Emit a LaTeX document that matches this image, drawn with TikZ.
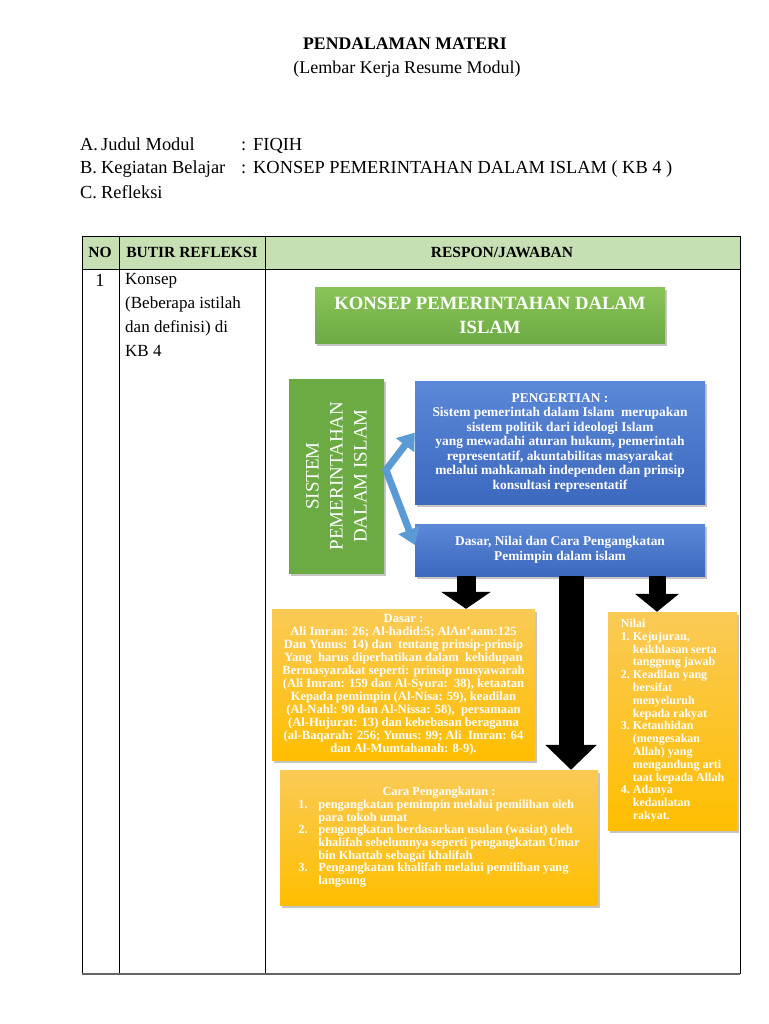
\documentclass[tikz,border=0pt]{standalone}
\usepackage{fontspec}
\setmainfont{Liberation Serif}
\usetikzlibrary{arrows.meta,positioning,shadows}
\definecolor{hdrgreen}{RGB}{198,224,180}
\definecolor{boxgreen}{RGB}{108,170,68}
\definecolor{boxgreenlt}{RGB}{138,196,88}
\definecolor{boxblue}{RGB}{60,104,190}
\definecolor{boxbluelt}{RGB}{92,136,216}
\definecolor{boxorange}{RGB}{255,190,0}
\definecolor{boxorangelt}{RGB}{250,202,86}
\definecolor{arrblue}{RGB}{91,155,213}

\begin{document}
\begin{tikzpicture}[x=1pt,y=-1pt,
  shadowed/.style={drop shadow={opacity=0.45,shadow xshift=1.5pt,shadow yshift=-2.5pt}},
  greenbox/.style={shadowed,top color=boxgreenlt,bottom color=boxgreen,text=white,inner sep=0pt,align=center},
  bluebox/.style={shadowed,top color=boxbluelt,bottom color=boxblue,text=white,inner sep=0pt,align=center,
    minimum width=290pt},
  orangebox/.style={shadowed,top color=boxorangelt,bottom color=boxorange,text=white,inner sep=0pt,align=center},
  hdr/.style={font=\bfseries\fontsize{15.5}{18}\selectfont},
  doc/.style={inner sep=0pt,anchor=base west,font=\fontsize{18.4}{24}\selectfont},
  blkarrow/.style={draw=black}]
\useasboundingbox[fill=white] (0,0) rectangle (768,1024);

% heading
\node[font=\bfseries\fontsize{17.7}{20}\selectfont] (ttl) at (405,44) {PENDALAMAN MATERI};
\node[font=\fontsize{18}{22}\selectfont] (subttl) at (407,69) {(Lembar Kerja Resume Modul)};

\node[doc] (ia) at (80,151) {A.};
\node[doc] (iat) at (101,151) {Judul Modul};
\node[doc] (iac) at (241,151) {:};
\node[doc] (iav) at (253,151) {FIQIH};
\node[doc] (ib) at (80,174) {B.};
\node[doc] (ibt) at (101,174) {Kegiatan Belajar};
\node[doc] (ibc) at (241,174) {:};
\node[doc] (ibv) at (253,174) {KONSEP PEMERINTAHAN DALAM ISLAM ( KB 4 )};
\node[doc] (ic) at (80,199) {C.};
\node[doc] (ict) at (101,199) {Refleksi};

% table
\fill[hdrgreen] (82,236) rectangle (740,269);
\draw[line width=0.9pt] (82,974) -- (82,236) -- (740,236) -- (740,974);
\draw[line width=0.9pt] (82,269) -- (740,269);
\draw[line width=0.9pt] (119,236) -- (119,974);
\draw[line width=0.9pt] (265,236) -- (265,974);
\draw[line width=1.3pt,black!60] (82,974) -- (740,974);

\node[hdr] (hno) at (100,252) {NO};
\node[hdr] (hbutir) at (192,252) {BUTIR REFLEKSI};
\node[hdr] (hresp) at (502,252) {RESPON/JAWABAN};

\node[doc,anchor=base] (rno) at (100,286) {1};
\node[inner sep=0pt,anchor=north west,align=left,font=\fontsize{17}{24}\selectfont] (rbutir) at (125,273)
  {Konsep\\(Beberapa istilah\\dan definisi) di\\KB 4};

% diagram
\node[greenbox,minimum width=350pt,minimum height=56pt,font=\bfseries\fontsize{18.7}{24}\selectfont]
  (konsep) at (490,315) {KONSEP PEMERINTAHAN DALAM\\ISLAM};
\node[greenbox,top color=boxgreen,rotate=90,minimum width=194pt,minimum height=95pt,
  font=\fontsize{19}{24}\selectfont] (sistem) at (336.5,476) {SISTEM\\PEMERINTAHAN\\DALAM ISLAM};
\node[bluebox,minimum height=123pt,font=\bfseries\fontsize{13.4}{14.5}\selectfont] (peng) at (560,442.5)
  {PENGERTIAN :\\Sistem pemerintah dalam Islam\ \ merupakan\\sistem politik dari ideologi Islam\\
   yang mewadahi aturan hukum, pemerintah\\representatif, akuntabilitas masyarakat\\
   melalui mahkamah independen dan prinsip\\konsultasi representatif};
\node[bluebox,minimum height=52pt,font=\bfseries\fontsize{13.4}{15}\selectfont] (dnc) at (560,550)
  {Dasar, Nilai dan Cara Pengangkatan\\Pemimpin dalam islam};

\node[orangebox,minimum width=263pt,minimum height=151pt,font=\bfseries\fontsize{12.6}{13}\selectfont]
  (dasar) at (403.5,684.5)
  {Dasar :\\Ali Imran: 26; Al-hadid:5; AlAn'aam:125\\Dan Yunus: 14) dan\ \ tentang prinsip-prinsip\\
   Yang\ \ harus diperhatikan dalam\ \ kehidupan\\Bermasyarakat seperti: prinsip musyawarah\\
   (Ali Imran: 159 dan Al-Syura:\ \ 38), ketaatan\\Kepada pemimpin (Al-Nisa: 59), keadilan\\
   (Al-Nahl: 90 dan Al-Nissa: 58),\ \ persamaan\\(Al-Hujurat: 13) dan kebebasan beragama\\
   (al-Baqarah: 256; Yunus: 99; Ali\ \ Imran: 64\\dan Al-Mumtahanah: 8-9).};
\node[orangebox,minimum width=129pt,minimum height=218pt,font=\bfseries\fontsize{12}{12.8}\selectfont]
  (nilai) at (672.5,721)
  {\begin{tabular}{@{}l@{\hspace{3pt}}l@{}}
   \multicolumn{2}{@{}l@{}}{Nilai}\\
   1. & Kejujuran,\\ & keikhlasan serta\\ & tanggung jawab\\
   2. & Keadilan yang\\ & bersifat\\ & menyeluruh\\ & kepada rakyat\\
   3. & Ketauhidan\\ & (mengesakan\\ & Allah) yang\\ & mengandung arti\\ & taat kepada Allah\\
   4. & Adanya\\ & kedaulatan\\ & rakyat.
   \end{tabular}};
\node[orangebox,minimum width=318pt,minimum height=135pt,font=\bfseries\fontsize{12.4}{12.7}\selectfont]
  (cara) at (439,837.5)
  {\begin{tabular}{@{}p{14pt}@{\hspace{6pt}}l@{}}
   \multicolumn{2}{c}{Cara Pengangkatan :}\\
   1. & pengangkatan pemimpin melalui pemilihan oleh\\ & para tokoh umat\\
   2. & pengangkatan berdasarkan usulan (wasiat) oleh\\ & khalifah sebelumnya seperti pengangkatan Umar\\
      & bin Khattab sebagai khalifah\\
   3. & Pengangkatan khalifah melalui pemilihan yang\\ & langsung
   \end{tabular}};

% arrows
\coordinate (vtx) at (386,470);
\draw[arrblue,line width=7pt,{Triangle[width=22pt,length=16pt]}-{Triangle[width=22pt,length=16pt]}]
  ([yshift=10pt]peng.west) -- (vtx) -- ([yshift=5pt]dnc.west);

\coordinate (ax1) at (466,0);
\coordinate (ax2) at (571,0);
\coordinate (ax3) at (657,0);
\draw[blkarrow,line width=19pt,-{Triangle[width=49pt,length=17pt]}] (ax1 |- dnc.south) -- (ax1 |- dasar.north);
\draw[blkarrow,line width=25pt,-{Triangle[width=50pt,length=25pt]}] (ax2 |- dnc.south) -- (ax2 |- cara.north);
\draw[blkarrow,line width=17pt,-{Triangle[width=43pt,length=18pt]}] (ax3 |- dnc.south) -- (ax3 |- nilai.north);
\end{tikzpicture}
\end{document}
